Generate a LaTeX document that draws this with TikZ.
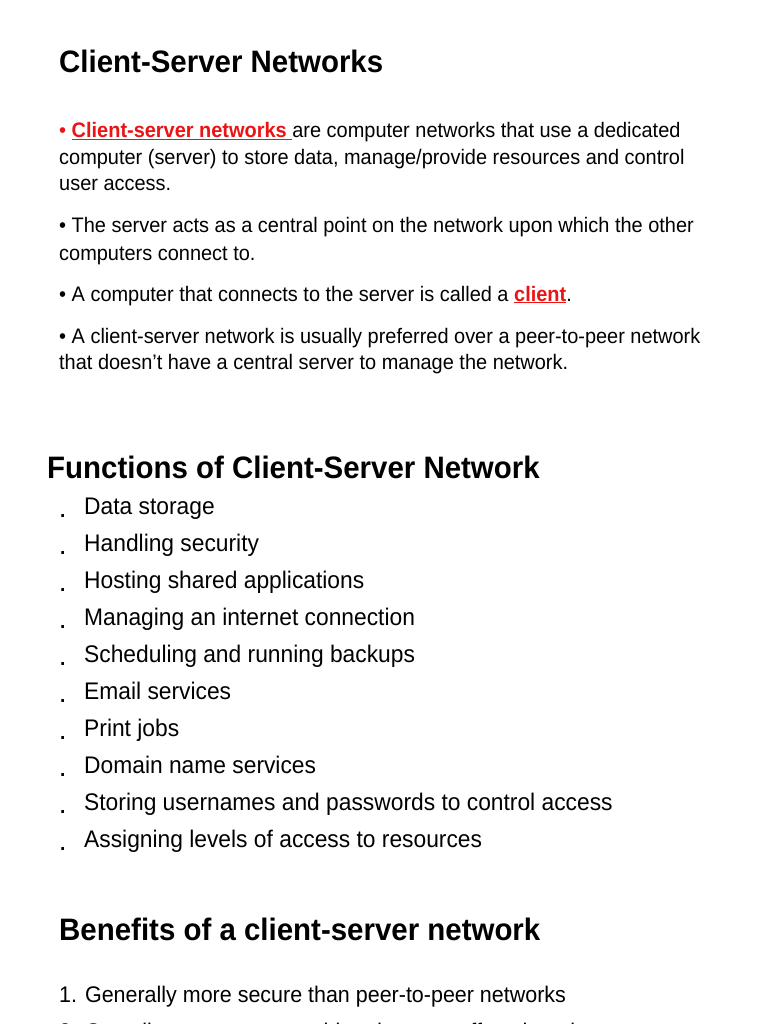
\documentclass[tikz,border=0pt]{standalone}
\usepackage{fontspec}
\setmainfont{Liberation Sans}[FakeStretch=0.95]
\definecolor{hl}{RGB}{235,20,20}
\begin{document}
\begin{tikzpicture}[x=1pt,y=-1pt,
  body/.style={anchor=base west,inner sep=0pt,font=\fontsize{21}{25}\selectfont},
  item/.style={anchor=base west,inner sep=0pt,font=\fontsize{24}{28}\selectfont},
  bitem/.style={anchor=base west,inner sep=0pt,font=\fontsize{22.6}{27}\selectfont},
  head/.style={anchor=base west,inner sep=0pt,font=\fontsize{31}{36}\selectfont\bfseries},
  dotm/.style={anchor=base west,inner sep=0pt,font=\fontsize{20}{22}\selectfont\bfseries}]
\useasboundingbox[fill=white] (0,0) rectangle (768,1024);
\clip (0,0) rectangle (768,1024);
\node[head] (t1) at (59,73) {Client-Server Networks};
\node[body] (p1) at (59,138) {\textcolor{hl}{• \textbf{\underline{Client-server networks }}}are computer networks that use a dedicated};
\node[body] (p2) at (59,165) {computer (server) to store data, manage/provide resources and control};
\node[body] (p3) at (59,191) {user access.};
\node[body] (p4) at (59,233) {• The server acts as a central point on the network upon which the other};
\node[body] (p5) at (59,260) {computers connect to.};
\node[body] (p6) at (59,301) {• A computer that connects to the server is called a \textcolor{hl}{\textbf{\underline{client}}}.};
\node[body] (p7) at (59,343) {• A client-server network is usually preferred over a peer-to-peer network};
\node[body] (p8) at (59,369) {that doesn’t have a central server to manage the network.};
\node[head] (t2) at (47,478) {Functions of Client-Server Network};
\foreach \i/\t in {0/Data storage,1/Handling security,2/Hosting shared applications,3/Managing an internet connection,4/Scheduling and running backups,5/Email services,6/Print jobs,7/Domain name services,8/Storing usernames and passwords to control access,9/Assigning levels of access to resources}{
  \node[dotm] (d\i) at (60,{517+37*\i}) {.};
  \node[item] (l\i) at (84,{514+37*\i}) {\t};
}
\node[head] (t3) at (59,940) {Benefits of a client-server network};
\node[bitem] (b1) at (59,1002) {1. Generally more secure than peer-to-peer networks};
\node[bitem] (b2) at (59,1039) {2. One client computer crashing does not effect the others};
\end{tikzpicture}
\end{document}
